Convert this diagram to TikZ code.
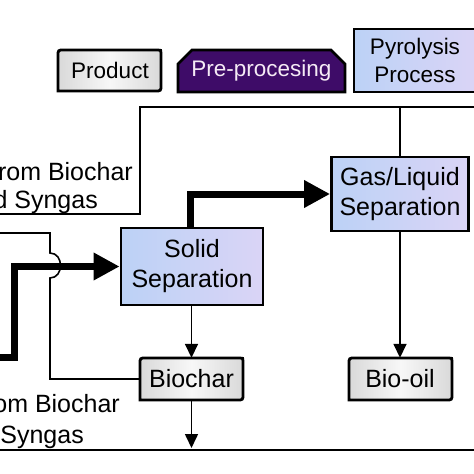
\documentclass[tikz,border=0pt]{standalone}
\usepackage{fontspec}
\setmainfont{Liberation Sans}
\usetikzlibrary{arrows.meta,shapes.misc}
\definecolor{prepurple}{RGB}{62,12,104}
\definecolor{boxblueA}{RGB}{188,210,246}
\definecolor{boxblueB}{RGB}{218,212,246}
\newcommand\tagshape[4]{%
  \draw[graybox] (#1,#4) -- (#1,#2+6) .. controls (#1,#2) .. (#1+6,#2) -- (#3-3,#2) .. controls (#3,#2) .. (#3,#2+3) -- (#3,#4-6) .. controls (#3,#4) .. (#3-6,#4) -- cycle;}
\begin{document}
\begin{tikzpicture}[x=1pt,y=-1pt,
  boxtext/.style={font=\fontsize{22.5}{28}\selectfont, align=center, inner sep=0pt, text=black},
  bigtext/.style={font=\fontsize{25}{30}\selectfont},
  bluebox/.style={boxtext, rectangle, draw=black, line width=2.8pt, left color=boxblueA, right color=boxblueB},
  graybox/.style={draw=black, line width=2.8pt, left color=gray!30, right color=gray!30, middle color=gray!6},
  sidetext/.style={font=\fontsize{25}{30}\selectfont, inner sep=0pt},
  thinl/.style={draw=black, line width=1.6pt},
  thinarrow/.style={thinl, -{Triangle[length=14pt,width=13pt]}},
  fatarrow/.style={draw=black, line width=7pt, -{Triangle[length=26pt,width=26pt]}}
]
\useasboundingbox (0,0) rectangle (474,474);
\clip (0,0) rectangle (474,474);
\fill[white] (0,0) rectangle (474,474);

% gray tag-shaped boxes
\tagshape{58}{50}{161}{91}
\tagshape{140}{358}{243}{400}
\tagshape{349}{358}{452}{400}

\node[boxtext, minimum width=103pt, minimum height=41pt] (prod) at (110,70.5) {Product};
\node[boxtext, bigtext, minimum width=103pt, minimum height=42pt] (biochar) at (191.5,379) {Biochar};
\node[boxtext, bigtext, minimum width=103pt, minimum height=42pt] (biooil) at (400,379) {Bio-oil};

\node[boxtext, chamfered rectangle, chamfered rectangle corners={north west,north east},
      chamfered rectangle xsep=7pt, chamfered rectangle ysep=7pt,
      draw=black, line width=2.6pt, fill=prepurple, text=white!92!violet,
      minimum width=167pt, minimum height=42pt] (pre) at (261.5,71) {Pre-procesing};

\node[bluebox, minimum width=122pt, minimum height=63pt] (pyro) at (415,60.5) {Pyrolysis\\Process};
\node[bluebox, bigtext, minimum width=137pt, minimum height=74pt] (gas) at (400,194) {Gas/Liquid\\Separation};
\node[bluebox, bigtext, minimum width=142pt, minimum height=77pt] (solid) at (192,266.5) {Solid\\Separation};

% side labels (cut by the picture edge)
\node[sidetext, anchor=base east] (l1a) at (133,180) {from Biochar};
\node[sidetext, anchor=base east] (l1b) at (98,208) {and Syngas};
\node[sidetext, anchor=base east] (l2a) at (120,412) {from Biochar};
\node[sidetext, anchor=base east] (l2b) at (84,443) {and Syngas};

% free ends
\coordinate (topR) at (476,107);
\coordinate (topL) at (140,107);
\coordinate (midL) at (0,214);
\coordinate (thinIn) at (0,233);
\coordinate (fatIn) at (0,357);
\coordinate (outB) at (191.5,448);
\coordinate (botL) at (0,450);
\coordinate (botR) at (476,450);

% thin connectors
\draw[thinl] (topR) -- (topL) -- (140,214) -- (midL);
\draw[thinl] (gas.north |- topL) -- (gas.north);
\draw[thinl] (thinIn) -- (50,233) -- (50,253) .. controls (64,253) and (64,278) .. (50,278) -- (50,379) -- (biochar.west);
\draw[thinarrow] (solid.south -| biochar.north) -- (biochar.north);
\draw[thinarrow] (biochar.south) -- (outB);
\draw[thinarrow] (gas.south) -- (biooil.north);
\draw[thinl] (botL) -- (botR);

% thick arrows
\draw[fatarrow] (190,228) |- (gas.west);
\draw[fatarrow] (fatIn) -- (14,357) -- (14,266.5) -- (solid.west);
\end{tikzpicture}
\end{document}
